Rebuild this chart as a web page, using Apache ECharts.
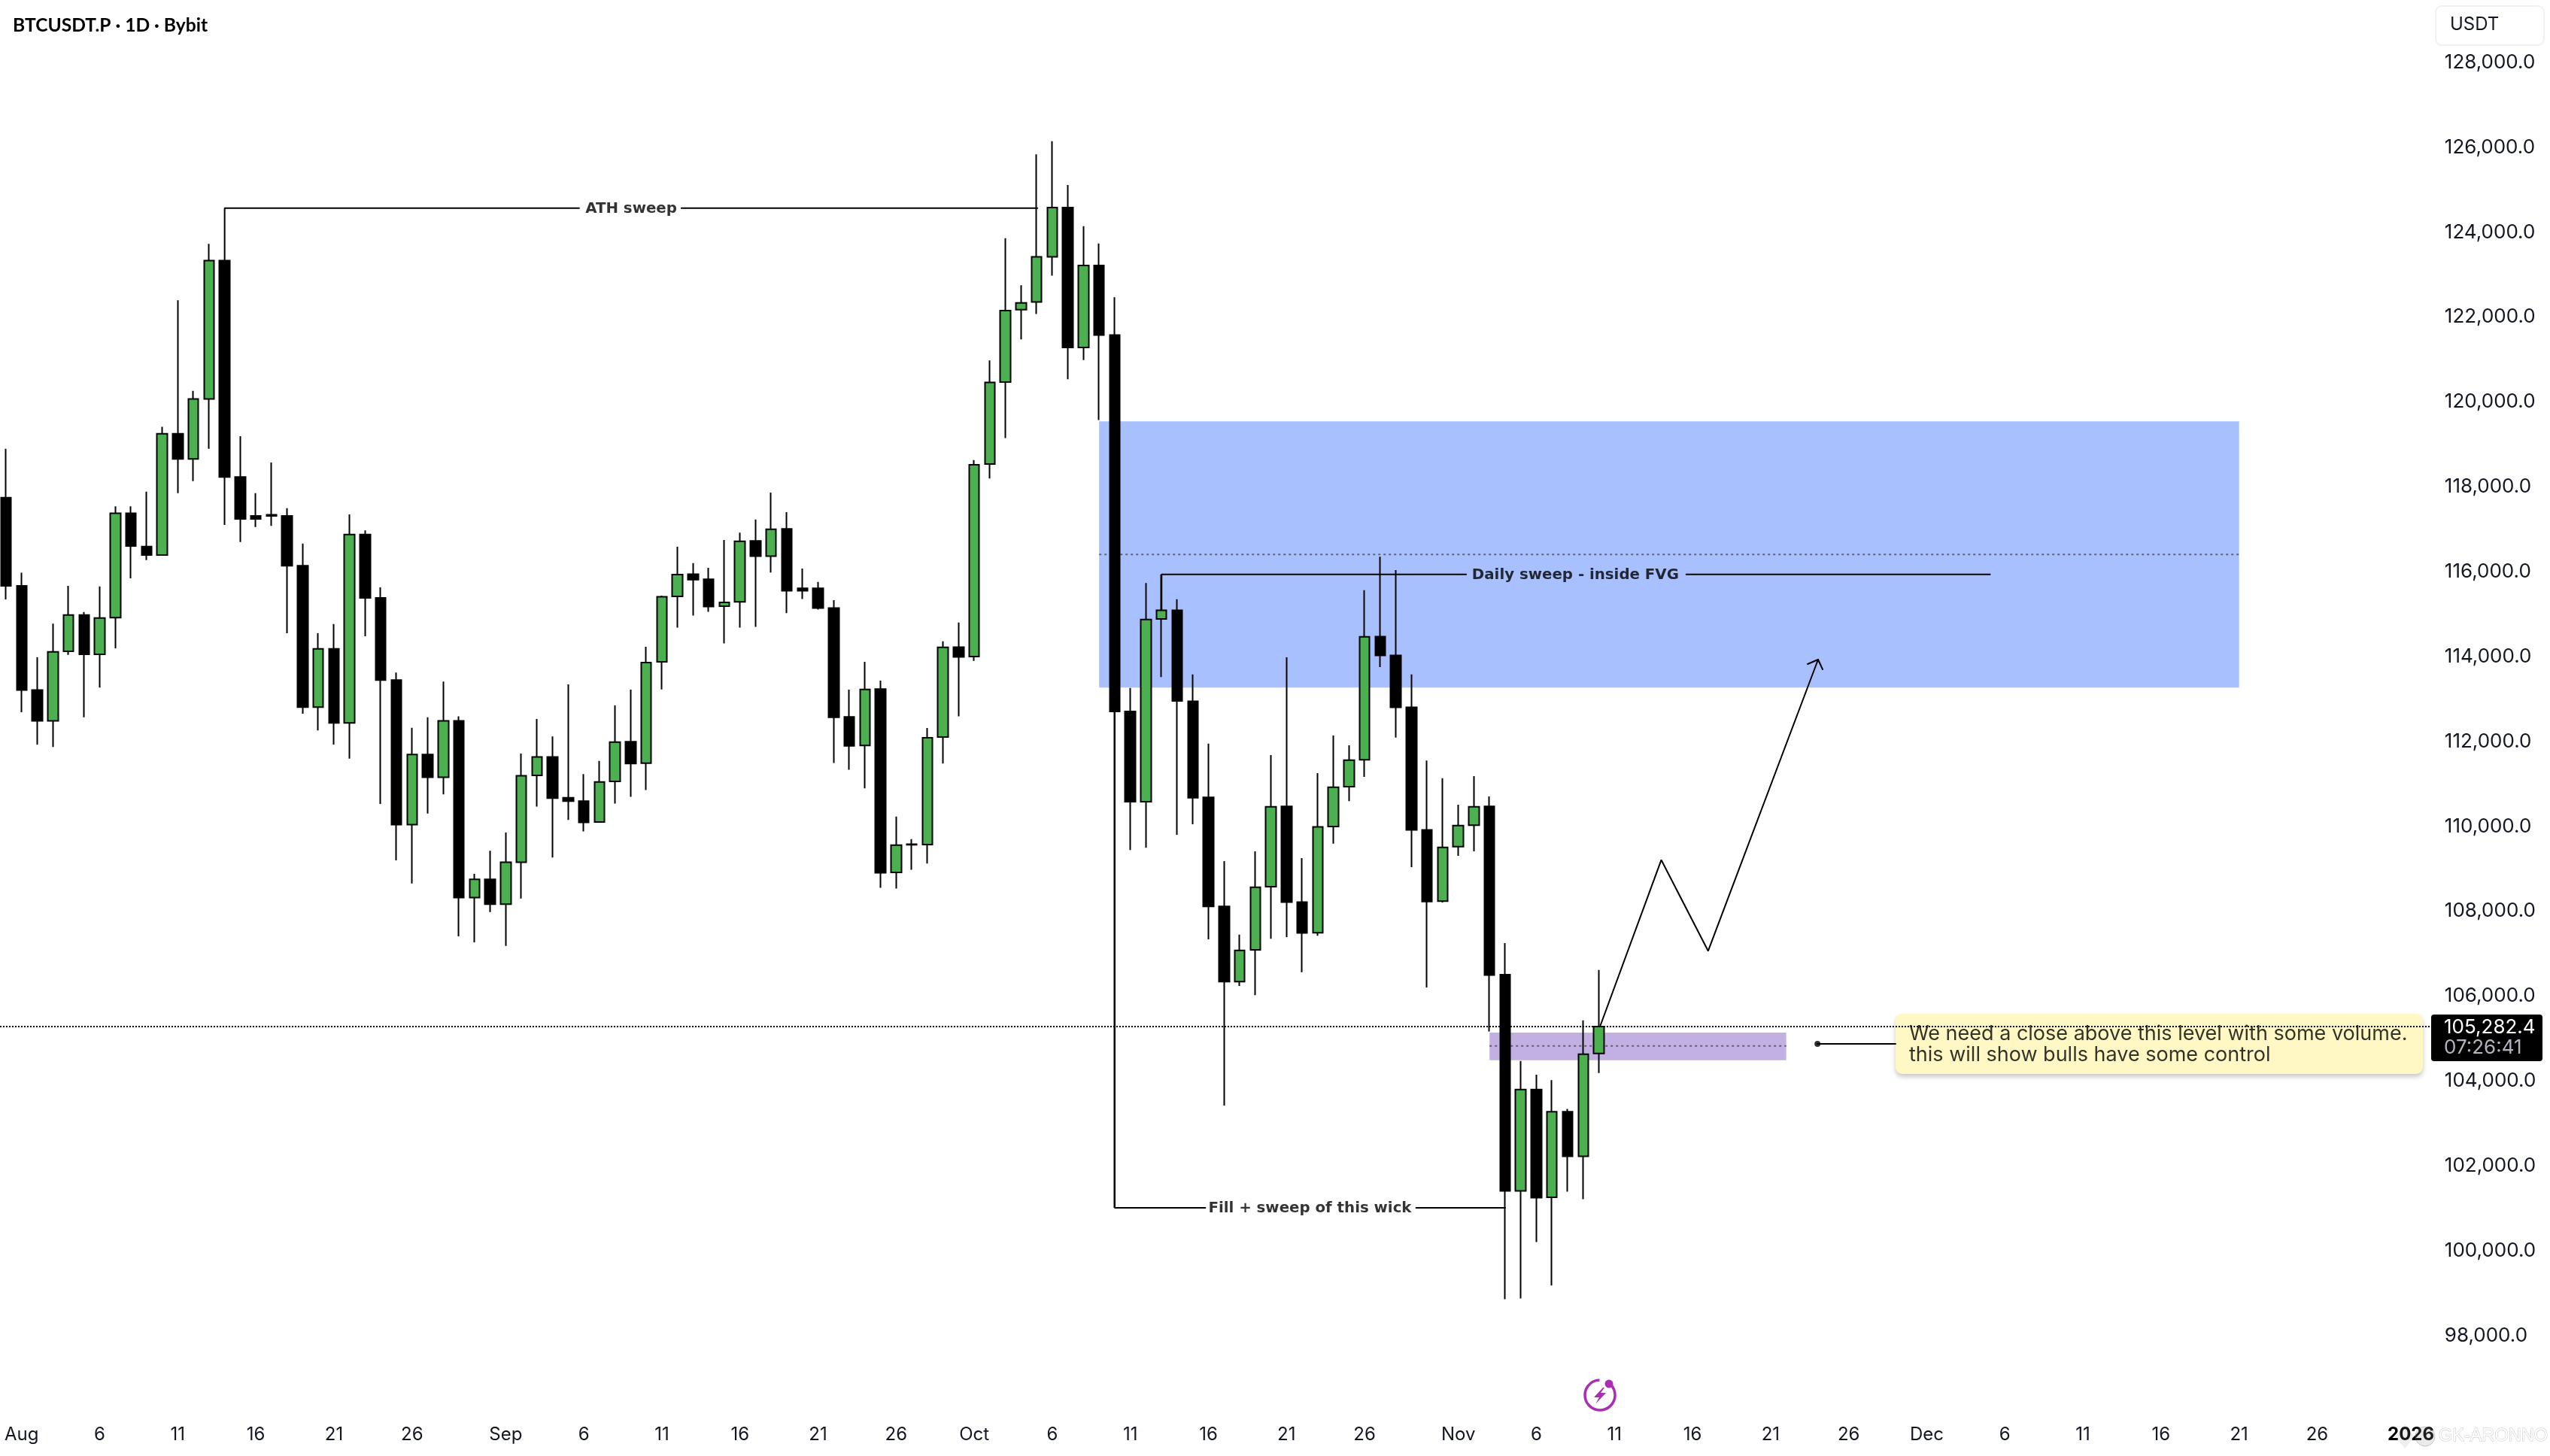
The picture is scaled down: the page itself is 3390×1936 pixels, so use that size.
<!DOCTYPE html>
<html>
<head>
<meta charset="utf-8">
<title>BTCUSDT.P 1D Bybit</title>
<script src="https://cdn.jsdelivr.net/npm/echarts@6/dist/echarts.min.js"></script>
<style>html,body{margin:0;padding:0;background:#fff}#c{width:3390px;height:1936px}</style>
</head>
<body>
<div id="c"></div>
<script>
// ---- data ----
const symbolTitle = 'BTCUSDT.P · 1D · Bybit';
const tickDates = ['2025-08-01','2025-08-06','2025-08-11','2025-08-16','2025-08-21','2025-08-26','2025-09-01','2025-09-06','2025-09-11','2025-09-16','2025-09-21','2025-09-26','2025-10-01','2025-10-06','2025-10-11','2025-10-16','2025-10-21','2025-10-26','2025-11-01','2025-11-06','2025-11-11','2025-11-16','2025-11-21','2025-11-26','2025-12-01','2025-12-06','2025-12-11','2025-12-16','2025-12-21','2025-12-26','2026-01-01'];
const tickLabels = ['Aug','6','11','16','21','26','Sep','6','11','16','21','26','Oct','6','11','16','21','26','Nov','6','11','16','21','26','Dec','6','11','16','21','26','2026'];
const firstDay = '2025-07-31';
const dayCount = 156;

const opens = [117743,115667,113211,112487,114124,114979,114053,114919,117376,116593,116391,119250,118657,120069,123332,118230,117316,117340,117316,116141,112807,114184,112439,116877,115382,113448,110042,111692,111158,112487,108322,108749,108168,109152,111202,111637,110672,110593,110102,111059,111993,111487,113876,115418,115941,115822,115189,115292,116724,116368,117009,115608,115608,115142,112578,111906,113235,108916,109580,109572,112104,114224,114002,118537,120469,122175,122356,123418,124582,121283,123215,121576,112706,110581,114887,115090,112945,110683,108112,106340,107091,108579,110469,108215,107495,109995,110936,111569,114472,114029,112803,109915,108238,109520,110026,110469,106504,101410,103800,101258,103275,102224,104648];
const closes = [115667,113211,112487,114112,114979,114053,114907,117376,116604,116391,119250,118657,120069,123332,118230,117245,117245,117316,116141,112807,114184,112439,116877,115382,113448,110042,111692,111158,112487,108322,108749,108168,109152,111193,111637,110664,110593,110094,111044,111985,111479,113860,115411,115933,115814,115181,115276,116716,116368,117001,115553,115553,115142,112570,111898,113227,108908,109556,109564,112088,114216,113994,118520,120458,122153,122333,123418,124582,121283,123215,121576,112706,110581,114875,115090,112954,110675,108112,106340,107075,108563,110461,108215,107487,109987,110920,111561,114464,114029,112803,109915,108230,109504,110018,110461,106498,101410,103800,101249,103275,102224,104631,105282.4];
const lows = [115346,112689,111929,111870,114041,112570,113270,114195,115845,116272,116380,117850,118135,118894,117103,116699,117055,117079,114551,112653,112261,111929,111597,114480,110529,109200,108654,110303,110754,107408,107266,107978,107183,108298,110466,109264,110150,109881,110094,110537,110696,110854,113227,114683,114968,115055,114311,114683,114699,115980,115023,115355,115110,111495,111336,110893,108552,108536,108979,109121,111479,112594,113900,118198,119147,121475,122074,122978,120537,120989,119576,101012,109440,109497,113519,109802,110050,107336,103422,106237,106023,107352,107392,106561,107423,109591,110596,111165,113752,112091,109037,106205,108207,109306,109409,105169,98859,98876,100207,99181,101393,101215,104190];
const highs = [118894,115975,113982,114777,115667,115050,115655,117542,117542,117886,119416,122395,120259,123724,123340,119191,117850,118574,117494,116664,114551,114765,117352,116972,115631,113626,112321,112570,113412,112594,108880,109425,109853,111716,112531,112120,113346,111234,111542,112847,113219,114232,115434,116589,116202,116091,116748,116922,117230,117863,117404,116075,115759,115331,113219,113876,113433,110229,109699,112317,114358,114801,118630,120978,123859,122752,125836,126142,125113,124141,123735,122469,113260,115734,115936,115350,113578,111949,109180,107447,109409,111680,113982,109251,111252,112138,111909,115564,116355,116039,113578,111553,111134,110509,111181,110706,107250,104470,104148,104021,103343,105428,106615];

const lastPrice = 105282.4;
const lastPriceText = '105,282.4';
const countdownText = '07:26:41';

// annotation geometry as [bar index, price]; bar index 0 is the first candle
const fvgZone = [70, 143, 119542, 113271];
const fvgMid = [[70, 116408], [143, 116408]];
const keyZone = [95, 114, 105140, 104487];
const keyMid = [[95, 104826], [114, 104826]];
const lastPriceLine = [-0.39, 155.3, lastPrice, lastPrice];
const athLeft = [[14, 123332], [14, 124565], [36.7, 124565]];
const athRight = [[43.25, 124565], [66.05, 124565]];
const dailyLeft = [[74, 115090], [74, 115936], [93.5, 115936]];
const dailyRight = [[107.6, 115936], [127.05, 115936]];
const fillLeft = [[71, 112706], [71, 101012], [76.8, 101012]];
const fillRight = [[90.3, 101012], [96, 101012]];
const zigzag = [[102.1, 105309], [106, 109208], [109, 107064], [116.04, 113930]];
const arrowHead = [[115.37, 113824], [116.04, 113930], [116.33, 113700]];
const connector = [[116, 104876], [121, 104876]];
const noteBox = [121, 154.77, 105584, 104166];
const noteAnchor = [121.87, 104860];
const noteText = 'We need a close above this level with some volume.\nthis will show bulls have some control';
const textNotes = [
  {value: [40.03, 124565], name: 'ATH sweep'},
  {value: [100.5, 115936], name: 'Daily sweep - inside FVG'},
  {value: [83.5, 101012], name: 'Fill + sweep of this wick'}
];

// ---- chart ----
const dates = [];
{
  const d0 = new Date(firstDay + 'T00:00:00Z');
  for (let i = 0; i < dayCount; i++) {
    dates.push(new Date(d0.getTime() + i * 86400000).toISOString().slice(0, 10));
  }
}
const candles = opens.map((o, i) => [o, closes[i], lows[i], highs[i]]);

const PX = 20.76;
const FONT = 'Inter, "Liberation Sans", sans-serif';

function rectItem(params, api) {
  const a = api.coord([api.value(0), api.value(2)]);
  const b = api.coord([api.value(1), api.value(3)]);
  return {type: 'rect', shape: {x: a[0], y: a[1], width: b[0] - a[0], height: b[1] - a[1]},
          style: {fill: api.visual('color')}};
}
function noteItem(params, api) {
  const a = api.coord([api.value(0), api.value(2)]);
  const b = api.coord([api.value(1), api.value(3)]);
  return {type: 'rect', shape: {x: a[0], y: a[1], width: b[0] - a[0], height: b[1] - a[1], r: 9},
          style: {fill: '#FFF8C4', shadowBlur: 6, shadowOffsetY: 4, shadowColor: 'rgba(0,0,0,0.22)'}};
}
function dottedItem(params, api) {
  const a = api.coord([api.value(0), api.value(2)]);
  const b = api.coord([api.value(1), api.value(3)]);
  return {type: 'line', shape: {x1: a[0], y1: a[1], x2: b[0], y2: b[1]},
          style: {stroke: '#000', lineWidth: 2, lineDash: [2, 2], fill: 'none'}};
}
function pathSeries(points, z, extra) {
  return Object.assign({
    type: 'line', xAxisIndex: 1, yAxisIndex: 0, data: points, showSymbol: false, symbol: 'none',
    silent: true, animation: false, z: z, clip: false,
    lineStyle: {color: '#000', width: 2, cap: 'round'}
  }, extra || {});
}

const chart = echarts.init(document.getElementById('c'), null, {renderer: 'canvas'});
chart.setOption({
  animation: false,
  backgroundColor: '#fff',
  title: {
    text: symbolTitle, left: 12, top: 17,
    textStyle: {fontFamily: 'Lato, "Open Sans", sans-serif', fontWeight: 'bold', fontSize: 24.6, color: '#000'}
  },
  grid: {left: 8, top: 0, width: PX * (dayCount - 1), height: 1888.8, containLabel: false},
  xAxis: [{
    type: 'category', data: dates, boundaryGap: false,
    axisLine: {show: false}, axisTick: {show: false}, splitLine: {show: false},
    axisLabel: {
      margin: 7, fontFamily: FONT, fontSize: 24, color: '#131722',
      interval: (i, v) => tickDates.indexOf(v) >= 0,
      formatter: v => {
        const k = tickDates.indexOf(v);
        const t = k >= 0 ? tickLabels[k] : '';
        return t === '2026' ? '{b|' + t + '}' : t;
      },
      rich: {b: {fontFamily: FONT, fontSize: 24, fontWeight: 'bold', color: '#000'}}
    }
  }, {
    type: 'value', min: 0, max: dayCount - 1, show: false, splitLine: {show: false}
  }],
  yAxis: [{
    type: 'value', position: 'right', min: 96000, max: 129471, interval: 2000, scale: true,
    axisLine: {show: false}, axisTick: {show: false}, splitLine: {show: false},
    axisLabel: {
      margin: 24, fontFamily: FONT, fontSize: 26, color: '#131722', showMinLabel: false, showMaxLabel: false,
      formatter: v => v.toLocaleString('en-US', {minimumFractionDigits: 1, maximumFractionDigits: 1})
    }
  }],
  series: [
    {type: 'custom', xAxisIndex: 1, yAxisIndex: 0, z: 1, silent: true, renderItem: rectItem, clip: false,
     encode: {x: [0, 1], y: [2, 3]}, itemStyle: {color: '#A8C0FD'}, data: [fvgZone]},
    {type: 'custom', xAxisIndex: 1, yAxisIndex: 0, z: 1, silent: true, renderItem: rectItem, clip: false,
     encode: {x: [0, 1], y: [2, 3]}, itemStyle: {color: '#C3B0E3'}, data: [keyZone]},
    pathSeries(fvgMid, 1, {lineStyle: {color: '#5f6470', width: 2, type: [3, 4]}}),
    pathSeries(keyMid, 1, {lineStyle: {color: '#5f6470', width: 2, type: [3, 4]}}),
    {
      type: 'candlestick', xAxisIndex: 0, yAxisIndex: 0, z: 2, data: candles, barWidth: 14, silent: true, clip: false,
      itemStyle: {color: '#4CAF50', color0: '#000', borderColor: '#000', borderColor0: '#000', borderWidth: 2}
    },
    pathSeries(athLeft, 3), pathSeries(athRight, 3),
    pathSeries(dailyLeft, 3), pathSeries(dailyRight, 3),
    pathSeries(fillLeft, 3), pathSeries(fillRight, 3),
    pathSeries(zigzag, 3), pathSeries(arrowHead, 3),
    {type: 'custom', xAxisIndex: 1, yAxisIndex: 0, z: 4, silent: true, renderItem: noteItem, clip: false,
     encode: {x: [0, 1], y: [2, 3]}, data: [noteBox]},
    pathSeries(connector, 4),
    {type: 'scatter', xAxisIndex: 1, yAxisIndex: 0, z: 4, silent: true, symbol: 'circle', symbolSize: 8,
     itemStyle: {color: '#000'}, data: [connector[0]]},
    {type: 'custom', xAxisIndex: 1, yAxisIndex: 0, z: 5, silent: true, renderItem: dottedItem, clip: false,
     encode: {x: [0, 1], y: [2, 3]}, data: [lastPriceLine]},
    {type: 'scatter', xAxisIndex: 1, yAxisIndex: 0, z: 6, silent: true, symbolSize: 0,
     data: textNotes,
     label: {show: true, position: 'inside', offset: [0, 1], formatter: p => p.name, fontFamily: '"DejaVu Sans"', fontWeight: 'bold', fontSize: 19.8, color: '#000'}},
    {type: 'scatter', xAxisIndex: 1, yAxisIndex: 0, z: 6, silent: true, symbolSize: 0,
     data: [{value: noteAnchor, name: noteText}],
     label: {show: true, position: 'right', distance: 0, align: 'left', formatter: p => p.name, fontFamily: FONT, fontSize: 27, lineHeight: 28, color: '#000'}}
  ],
  graphic: [
    {type: 'rect', z: 20, silent: true, shape: {x: 3232, y: 1349, width: 148, height: 62, r: 4}, style: {fill: '#000'}},
    {type: 'text', z: 21, silent: true, x: 3249, y: 1366, style: {text: lastPriceText, fill: '#fff', font: '26px ' + FONT, textVerticalAlign: 'middle'}},
    {type: 'text', z: 21, silent: true, x: 3249, y: 1393, style: {text: countdownText, fill: '#b2b5be', font: '26px ' + FONT, textVerticalAlign: 'middle'}},
    {type: 'rect', z: 20, silent: true, shape: {x: 3238, y: 8, width: 144, height: 52, r: 8}, style: {fill: '#fff', stroke: '#f0f1f4', lineWidth: 2}},
    {type: 'text', z: 21, silent: true, x: 3257, y: 33, style: {text: 'USDT', fill: '#131722', font: '24px ' + FONT, textVerticalAlign: 'middle'}},
    {type: 'arc', z: 20, silent: true, shape: {cx: 2127, cy: 1855, r: 20, startAngle: -0.95, endAngle: -1.6, clockwise: true}, style: {stroke: '#A92FB0', lineWidth: 3.5, fill: 'none'}},
    {type: 'circle', z: 20, silent: true, shape: {cx: 2139, cy: 1840, r: 5.5}, style: {fill: '#A92FB0'}},
    {type: 'polygon', z: 20, silent: true, shape: {points: [[2131, 1845], [2119, 1858], [2126, 1858], [2121, 1867], [2135, 1852], [2128, 1852], [2133, 1845]]}, style: {fill: '#A92FB0'}},
    {type: 'polygon', z: 22, silent: true, shape: {points: [[3197, 1894], [3210, 1910], [3197, 1926], [3184, 1910]]}, style: {fill: 'rgba(150,150,150,0.16)'}},
    {type: 'circle', z: 22, silent: true, shape: {cx: 3224, cy: 1910, r: 13}, style: {fill: 'rgba(150,150,150,0.2)', stroke: 'rgba(120,120,120,0.35)', lineWidth: 1}},
    {type: 'text', z: 22, silent: true, x: 3242, y: 1910, style: {text: 'GK-ARONNO', fill: '#fff', stroke: '#c4c4c4', lineWidth: 1, font: '23.5px "Liberation Sans"', textVerticalAlign: 'middle'}}
  ]
});
</script>
</body>
</html>
